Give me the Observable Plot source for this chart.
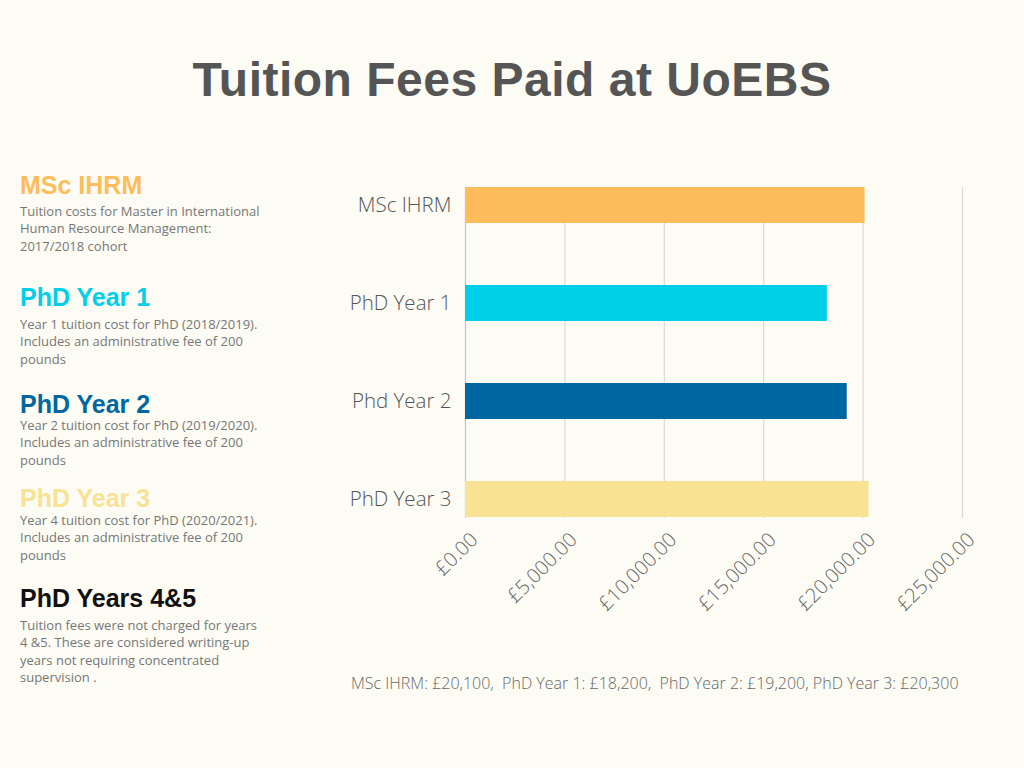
<!DOCTYPE html>
<html>
<head>
<meta charset="utf-8">
<script src="https://cdn.jsdelivr.net/npm/d3@7"></script>
<script src="https://cdn.jsdelivr.net/npm/@observablehq/plot@0.6"></script>
<style>
  html, body { margin: 0; padding: 0; }
  body { width: 1024px; height: 768px; background: #fcfcf5; position: relative; overflow: hidden; font-family: "Open Sans", sans-serif; }
  #title { position: absolute; left: 0; top: 52px; width: 1024px; text-align: center; font-family: "Liberation Sans", Arial, sans-serif; font-weight: bold; font-size: 48px; color: #555555; letter-spacing: 0.5px; }
  .sec { position: absolute; left: 20px; width: 260px; }
  .sec h2 { margin: 0; font-family: "Liberation Sans", Arial, sans-serif; font-weight: bold; font-size: 25px; line-height: 28px; }
  .sec p { margin: 0; font-family: "Open Sans", sans-serif; font-size: 13px; line-height: 17.3px; color: #777; }
  #chart { position: absolute; left: 330px; top: 170px; }
  #caption { position: absolute; left: 351px; top: 672px; font-family: "Open Sans", sans-serif; font-size: 16px; color: #666; white-space: pre; font-weight: 300; }
</style>
</head>
<body>
<div id="title"></div>
<div id="left"></div>
<div id="chart"></div>
<div id="caption"></div>
<script>
const categories = ["MSc IHRM", "PhD Year 1", "Phd Year 2", "PhD Year 3"];
const fees = [20100, 18200, 19200, 20300];
const barColors = ["#FFBC5A", "#00CFEA", "#0066A1", "#F8E293"];
const xTicks = [0, 5000, 10000, 15000, 20000, 25000];

const titleText = "Tuition Fees Paid at UoEBS";
const headings = ["MSc IHRM", "PhD Year 1", "PhD Year 2", "PhD Year 3", "PhD Years 4&5"];
const headingColors = ["#FFBC5A", "#00CFEA", "#0066A1", "#F8E293", "#111111"];
const descriptions = [
  ["Tuition costs for Master in International", "Human Resource Management:", "2017/2018 cohort"],
  ["Year 1 tuition cost for PhD (2018/2019).", "Includes an administrative fee of 200", "pounds"],
  ["Year 2 tuition cost for PhD (2019/2020).", "Includes an administrative fee of 200", "pounds"],
  ["Year 4 tuition cost for PhD (2020/2021).", "Includes an administrative fee of 200", "pounds"],
  ["Tuition fees were not charged for years", "4 &5. These are considered writing-up", "years not requiring concentrated", "supervision ."]
];
const sectionTops = [171, 283, 390, 484, 584];
const descGaps = [4, 5, -1, 0, 5];
const captionText = "MSc IHRM: £20,100,  PhD Year 1: £18,200,  PhD Year 2: £19,200, PhD Year 3: £20,300";

document.getElementById("title").textContent = titleText;
document.getElementById("caption").textContent = captionText;

const left = document.getElementById("left");
headings.forEach((h, i) => {
  const div = document.createElement("div");
  div.className = "sec";
  div.style.top = sectionTops[i] + "px";
  const h2 = document.createElement("h2");
  h2.textContent = h;
  h2.style.color = headingColors[i];
  h2.style.marginBottom = descGaps[i] + "px";
  div.appendChild(h2);
  const p = document.createElement("p");
  p.innerHTML = descriptions[i].map(s => s.replace(/&/g, "&amp;")).join("<br>");
  div.appendChild(p);
  left.appendChild(div);
});

const data = categories.map((c, i) => ({category: c, fee: fees[i], color: barColors[i]}));
const fmt = d => "£" + d3.format(",.2f")(d);

const chart = Plot.plot({
  width: 680,
  height: 448,
  marginLeft: 135,
  marginRight: 48,
  marginTop: 17,
  marginBottom: 100,
  style: { background: "transparent", fontFamily: "Open Sans, sans-serif" },
  x: { domain: [0, 25000], ticks: xTicks },
  y: { domain: categories, paddingInner: 0.63, paddingOuter: 0 },
  marks: [
    Plot.gridX(xTicks.slice(1), { stroke: "#d9d9d9", strokeOpacity: 1, strokeWidth: 1.2 }),
    Plot.ruleX([0], { stroke: "#c4c4c4", strokeWidth: 1.2 }),
    Plot.barX(data, { y: "category", x: "fee", fill: "color" }),
    Plot.axisX({ ticks: xTicks, tickFormat: fmt, tickRotate: -45, tickSize: 0, tickPadding: 18, dx: 9, fontSize: 20, fill: "#666", fontWeight: 300, label: null }),
    Plot.axisY({ tickSize: 0, tickPadding: 14, fontSize: 20.5, fill: "#555", fontWeight: 300, label: null })
  ]
});
document.getElementById("chart").appendChild(chart);
</script>
</body>
</html>
